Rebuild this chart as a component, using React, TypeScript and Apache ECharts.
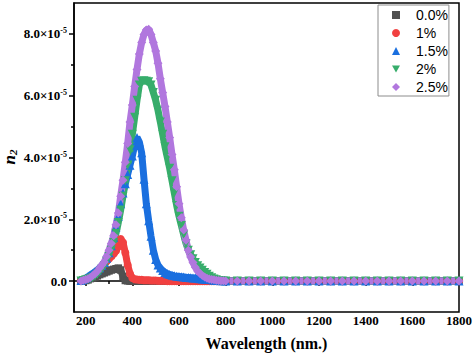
import React, { useEffect, useRef } from 'react';
import * as echarts from 'echarts';

// Wavelength grid (nm) of the read-off points
const wavelengths = [
  180, 190, 200, 210, 220, 230, 240, 250, 260, 270, 280, 290, 300, 310, 320, 330, 340, 350, 360, 370,
  380, 390, 400, 410, 420, 430, 440, 450, 460, 470, 480, 490, 500, 510, 520, 530, 540, 550, 560, 570,
  580, 590, 600, 610, 620, 630, 640, 650, 660, 670, 680, 690, 700, 710, 720, 730, 740, 750, 760, 770,
  780, 790, 800,
];
const tailWavelengths = [
  850, 900, 950, 1000, 1050, 1100, 1150, 1200, 1250, 1300, 1350, 1400, 1450, 1500, 1550, 1600, 1650, 1700, 1750, 1800,
];
const tailValues = [0, 0, 0, 0, 0, 0, 0, 0, 0, 0, 0, 0, 0, 0, 0, 0, 0, 0, 0, 0];

// n2 values in units of 1e-5
const n2_0 = [
  0, 0.01, 0.02, 0.04, 0.08, 0.1, 0.13, 0.17, 0.21, 0.24, 0.27, 0.3, 0.33, 0.36, 0.38, 0.4, 0.42, 0.36, 0.15, 0.02,
  0.01, 0, 0, 0, 0, 0, 0, 0, 0, 0, 0, 0, 0, 0, 0, 0, 0, 0, 0, 0,
  0, 0, 0, 0, 0, 0, 0, 0, 0, 0, 0, 0, 0, 0, 0, 0, 0, 0, 0, 0,
  0, 0, 0,
];
const n2_1 = [
  0.01, 0.03, 0.06, 0.09, 0.13, 0.17, 0.22, 0.3, 0.38, 0.46, 0.55, 0.64, 0.72, 0.8, 0.88, 0.98, 1.12, 1.36, 1.25, 0.92,
  0.52, 0.24, 0.1, 0.06, 0.05, 0.04, 0.04, 0.03, 0.03, 0.03, 0.02, 0.02, 0.02, 0.01, 0.01, 0.01, 0.01, 0, 0, 0,
  0, 0, 0, 0, 0, 0, 0, 0, 0, 0, 0, 0, 0, 0, 0, 0, 0, 0, 0, 0,
  0, 0, 0,
];
const n2_15 = [
  0.02, 0.05, 0.09, 0.14, 0.2, 0.25, 0.3, 0.36, 0.43, 0.51, 0.6, 0.74, 0.92, 1.14, 1.42, 1.75, 2.1, 2.5, 2.85, 3.15,
  3.45, 3.75, 4.05, 4.4, 4.65, 4.5, 4.15, 3.3, 2.5, 1.95, 1.45, 1.0, 0.7, 0.52, 0.42, 0.34, 0.28, 0.24, 0.21, 0.19,
  0.17, 0.16, 0.15, 0.14, 0.13, 0.12, 0.12, 0.11, 0.1, 0.1, 0.09, 0.08, 0.07, 0.06, 0.05, 0.05, 0.04, 0.03, 0.02, 0.02,
  0.01, 0.01, 0,
];
const n2_2 = [
  0, 0.02, 0.04, 0.06, 0.08, 0.12, 0.16, 0.22, 0.3, 0.4, 0.5, 0.64, 0.8, 1.0, 1.25, 1.55, 1.9, 2.3, 2.75, 3.25,
  3.75, 4.25, 4.75, 5.3, 5.85, 6.35, 6.47, 6.48, 6.47, 6.45, 6.35, 6.1, 5.85, 5.53, 5.15, 4.75, 4.35, 4.0, 3.65, 3.25,
  2.85, 2.45, 2.1, 1.8, 1.5, 1.22, 1.0, 0.85, 0.72, 0.6, 0.5, 0.42, 0.35, 0.28, 0.22, 0.16, 0.11, 0.07, 0.04, 0.02,
  0.01, 0, 0,
];
const n2_25 = [
  0, 0.03, 0.05, 0.08, 0.12, 0.18, 0.24, 0.32, 0.42, 0.52, 0.62, 0.8, 1.0, 1.22, 1.47, 1.82, 2.2, 2.75, 3.26, 3.85,
  4.45, 5.15, 5.7, 6.3, 6.85, 7.35, 7.72, 7.98, 8.13, 8.15, 7.98, 7.72, 7.45, 7.05, 6.55, 6.1, 5.65, 5.15, 4.65, 4.1,
  3.6, 3.05, 2.5, 2.05, 1.65, 1.32, 1.0, 0.78, 0.6, 0.45, 0.33, 0.25, 0.18, 0.13, 0.09, 0.07, 0.05, 0.04, 0.03, 0.02,
  0.01, 0.01, 0,
];

const seriesNames = ['0.0%', '1%', '1.5%', '2%', '2.5%'];
const seriesColors = ['#515151', '#F14040', '#1A6FDF', '#37AD6B', '#B177DE'];
const seriesSymbols = ['rect', 'circle', 'triangle', 'triangle', 'diamond'];
const seriesSymbolSizes = [7.5, 8, 9, 9, 9];
const seriesRotate = [0, 0, 0, 180, 0];
const legendIcons = ['rect', 'circle', 'triangle', 'path://M0,0L10,0L5,9Z', 'diamond'];
const seriesValues = [n2_0, n2_1, n2_15, n2_2, n2_25];

const xLabelValues = [200, 400, 600, 800, 1000, 1200, 1400, 1600, 1800];
const xMinorTicks = [300, 500, 700, 900, 1100, 1300, 1500, 1700];
const yLabelValues = [0, 2, 4, 6, 8];
const yMinorTicks = [1, 3, 5, 7];

const serif = '"Liberation Serif", "Times New Roman", serif';
const sans = '"Liberation Sans", Arial, sans-serif';

export default function App() {
  const ref = useRef<HTMLDivElement>(null);
  useEffect(() => {
    if (!ref.current) return;
    const chart = echarts.init(ref.current, undefined, { renderer: 'svg' });
    const buildData = (vals: number[]) => [
      ...wavelengths.map((w, i) => [w, vals[i]]),
      ...tailWavelengths.map((w, i) => [w, tailValues[i]]),
    ];
    const axisLineStyle = { color: '#000', width: 1.5 };
    const labelStyle = { fontFamily: serif, fontWeight: 'bold' as const, fontSize: 13, color: '#000' };
    chart.setOption({
      animation: false,
      backgroundColor: '#fff',
      grid: {
        left: 74, right: 15, top: 3, bottom: 42,
        show: true, borderColor: '#000', borderWidth: 1.5, backgroundColor: 'transparent',
        outerBoundsMode: 'none',
      },
      graphic: [
        {
          type: 'text',
          x: 9,
          y: 157,
          rotation: Math.PI / 2,
          style: {
            text: '{i|n}{s|2}',
            align: 'center',
            verticalAlign: 'middle',
            rich: {
              i: { fontFamily: serif, fontStyle: 'italic', fontWeight: 'bold', fontSize: 17, lineHeight: 18, fill: '#000' },
              s: { fontFamily: serif, fontStyle: 'italic', fontWeight: 'bold', fontSize: 11, lineHeight: 10, verticalAlign: 'bottom', fill: '#000' },
            },
          },
        },
      ],
      legend: {
        orient: 'vertical',
        left: 378, top: 5,
        padding: [3, 1, 2, 14],
        itemWidth: 8, itemHeight: 8, itemGap: 4,
        borderColor: '#8c8c8c', borderWidth: 1, backgroundColor: '#fff',
        textStyle: { fontFamily: sans, fontSize: 14, color: '#000', lineHeight: 14, padding: [0, 0, 0, 11] },
        data: seriesNames.map((n, i) => ({ name: n, icon: legendIcons[i] })),
      },
      xAxis: [
        {
          type: 'value', min: 150, max: 1800,
          name: 'Wavelength (nm.)', nameLocation: 'middle', nameGap: 23,
          nameTextStyle: { fontFamily: serif, fontWeight: 'bold', fontSize: 16, color: '#000' },
          axisLine: { show: true, lineStyle: axisLineStyle },
          axisTick: { show: true, inside: false, length: 5, customValues: xLabelValues, lineStyle: axisLineStyle },
          axisLabel: { ...labelStyle, customValues: xLabelValues, margin: 2, formatter: (v: number) => String(v) },
          splitLine: { show: false },
        },
        {
          type: 'value', min: 150, max: 1800, position: 'bottom',
          axisLine: { show: false },
          axisTick: { show: true, inside: false, length: 3, customValues: xMinorTicks, lineStyle: axisLineStyle },
          axisLabel: { show: false },
          splitLine: { show: false },
        },
      ],
      yAxis: [
        {
          type: 'value', min: -1, max: 9,
          axisLine: { show: true, lineStyle: axisLineStyle },
          axisTick: { show: true, inside: false, length: 5, customValues: yLabelValues, lineStyle: axisLineStyle },
          axisLabel: {
            ...labelStyle,
            customValues: yLabelValues,
            margin: 7,
            formatter: (v: number) => (v === 0 ? '{a|0.0}' : `{a|${v.toFixed(1)}×10}{b|-5}`),
            rich: {
              a: { fontFamily: serif, fontWeight: 'bold', fontSize: 13, color: '#000' },
              b: { fontFamily: serif, fontWeight: 'bold', fontSize: 8, color: '#000', padding: [0, 0, 7, 0] },
            },
          },
          splitLine: { show: false },
        },
        {
          type: 'value', min: -1, max: 9, position: 'left',
          axisLine: { show: false },
          axisTick: { show: true, inside: false, length: 3, customValues: yMinorTicks, lineStyle: axisLineStyle },
          axisLabel: { show: false },
          splitLine: { show: false },
        },
      ],
      series: seriesNames.map((n, i) => ({
        name: n,
        type: 'line',
        xAxisIndex: 0,
        yAxisIndex: 0,
        data: buildData(seriesValues[i]),
        symbol: seriesSymbols[i],
        symbolRotate: seriesRotate[i],
        symbolSize: seriesSymbolSizes[i],
        showSymbol: true,
        showAllSymbol: true,
        color: seriesColors[i],
        itemStyle: { color: seriesColors[i] },
        lineStyle: { color: seriesColors[i], width: 7 },
        smooth: false,
      })),
    });
    return () => chart.dispose();
  }, []);
  return <div ref={ref} style={{ position: 'fixed', left: 0, top: 0, width: 474, height: 354 }} />;
}
